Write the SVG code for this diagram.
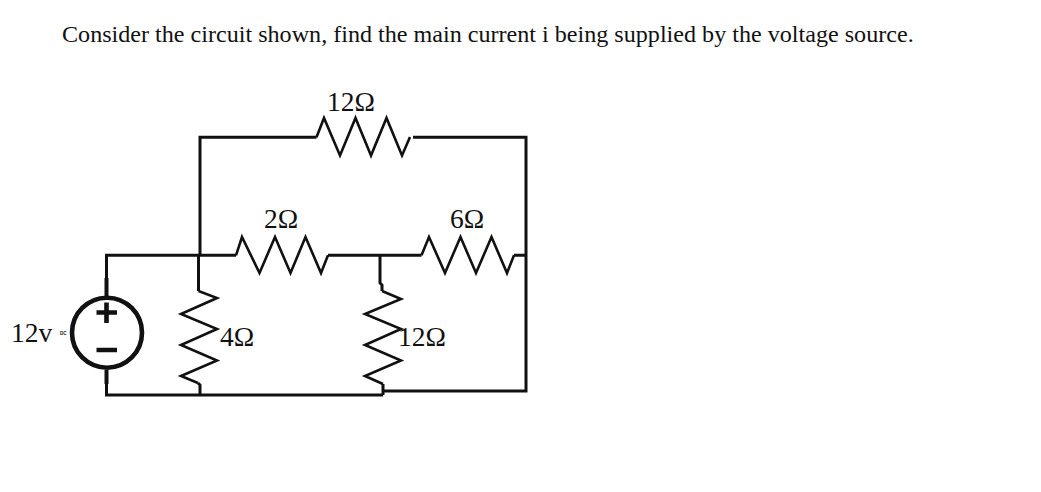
<svg xmlns="http://www.w3.org/2000/svg" width="1041" height="492" viewBox="0 0 1041 492">
<style>
text{font-family:"Liberation Serif","Times New Roman",serif;fill:#111;font-size:27.5px}
#title{font-size:24.12px}
.w{fill:none;stroke:#111;stroke-width:2.6;stroke-linejoin:miter}
.t{stroke-width:3}
</style>
<rect width="1041" height="492" fill="#fff"/>
<text id="title" x="62" y="42">Consider the circuit shown, find the main current i being supplied by the voltage source.</text>
<g id="connectors">
<path class="w t" d="M106.5 295V255.3H198.5M106.5 371V395H383M198.5 255.3V291M200 255.3V137.3H316.5M413 137.3H526V391H383M236 255.3H200M328 255.3H421.5M514 255.3H526M380 255.3V283L382 285V291M198 383L200 385V395M383 384V395"/>
<path d="M106.5 278V296M106.5 370V384" fill="none" stroke="#111" stroke-width="4"/>
</g>
<g id="source">
<circle cx="107" cy="332.7" r="35" fill="#fff" stroke="#111" stroke-width="4.6"/>
<path d="M96.5 312.5H117M106.5 302.5V323M96.5 350H117" fill="none" stroke="#111" stroke-width="4.6"/>
<text x="11" y="342">12v</text>
<text x="60" y="335" style="font-family:'Liberation Sans',sans-serif;font-size:4.5px;font-weight:bold" fill="#448">DC</text>
</g>
<g id="r-top">
<path class="w" d="M316.5 137.3L324 118L340 155.5L355.5 118L371 155.5L386.5 118L402 155.5L410 137"/>
<text x="327" y="110.5">12Ω</text>
</g>
<g id="r-2">
<path class="w" d="M236 255.3L242 237L259.5 273L275 237L290.5 273L305.5 237L321 273L328 255.3"/>
<text x="264" y="228">2Ω</text>
</g>
<g id="r-6">
<path class="w" d="M421.5 255.3L429 237L445 273L460.5 237L476 273L491.5 237L507 273L514 255.3"/>
<text x="450" y="228">6Ω</text>
</g>
<g id="r-4">
<path class="w" d="M198.5 291L217 298L181 314L217 329L181 345L217 360.5L181 376L198 383"/>
<text x="220" y="346">4Ω</text>
</g>
<g id="r-12">
<path class="w" d="M382 291L401 299L365 314L401 329L365 345L401 360.5L365 376L383 384"/>
<text x="398" y="346">12Ω</text>
</g>
</svg>
